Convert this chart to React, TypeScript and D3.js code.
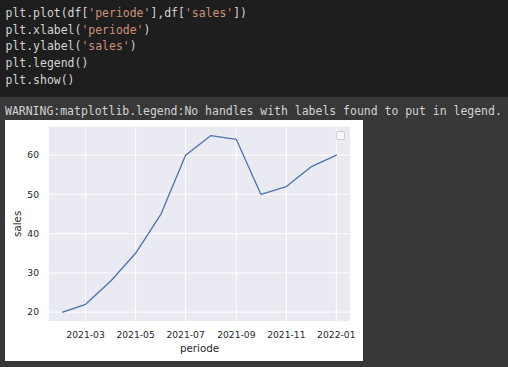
import React from "react";
import * as d3 from "d3";

const months: string[] = [
  "2021-02-01", "2021-03-01", "2021-04-01", "2021-05-01", "2021-06-01", "2021-07-01",
  "2021-08-01", "2021-09-01", "2021-10-01", "2021-11-01", "2021-12-01", "2022-01-01",
];
const sales: number[] = [20, 22, 28, 35, 45, 60, 65, 64, 50, 52, 57, 60];
const xTickLabels: string[] = ["2021-03", "2021-05", "2021-07", "2021-09", "2021-11", "2022-01"];
const yTicks: number[] = [20, 30, 40, 50, 60];

const codeLines: { t: string; s?: boolean }[][] = [
  [{ t: "plt.plot(df[" }, { t: "'periode'", s: true }, { t: "],df[" }, { t: "'sales'", s: true }, { t: "])" }],
  [{ t: "plt.xlabel(" }, { t: "'periode'", s: true }, { t: ")" }],
  [{ t: "plt.ylabel(" }, { t: "'sales'", s: true }, { t: ")" }],
  [{ t: "plt.legend()" }],
  [{ t: "plt.show()" }],
];
const warning = "WARNING:matplotlib.legend:No handles with labels found to put in legend.";

export default function App() {
  const W = 508, H = 367;
  const plot = { left: 49, right: 350, top: 126.7, bottom: 321 };
  const parse = d3.utcParse("%Y-%m-%d");
  const dates = months.map((m) => parse(m) as Date);
  const t0 = +dates[0], t1 = +dates[dates.length - 1];
  const pad = (t1 - t0) * 0.05;
  const x = d3.scaleUtc().domain([new Date(t0 - pad), new Date(t1 + pad)]).range([plot.left, plot.right]);
  const ymin = d3.min(sales)!, ymax = d3.max(sales)!;
  const ypad = (ymax - ymin) * 0.05;
  const y = d3.scaleLinear().domain([ymin - ypad, ymax + ypad]).range([plot.bottom, plot.top]);
  const xTicks = xTickLabels.map((s) => parse(s + "-01") as Date);
  const line = d3.line<number>().x((_, i) => x(dates[i])).y((d) => y(d));
  const fmt = d3.utcFormat("%Y-%m");
  const tickFont = "DejaVu Sans, sans-serif";
  const mono = "DejaVu Sans Mono, monospace";

  return (
    <svg width={W} height={H} style={{ position: "absolute", left: 0, top: 0 }}>
      <rect x={0} y={0} width={W} height={97} fill="#1e1e1e" />
      <rect x={0} y={97} width={W} height={H - 97} fill="#383838" />
      {codeLines.map((ln, i) => {
        const n = ln.reduce((a, p) => a + p.t.length, 0);
        return (
          <text key={i} x={5.5} y={16.7 + i * 16.8} fontFamily={mono} fontSize={11.5} fill="#d4d4d4"
            textLength={n * 6.9} lengthAdjust="spacingAndGlyphs">
            {ln.map((p, j) => (
              <tspan key={j} fill={p.s ? "#ce9178" : "#d4d4d4"}>{p.t}</tspan>
            ))}
          </text>
        );
      })}
      <text x={5} y={115} fontFamily={mono} fontSize={11.5} fill="#d4d4d4"
        textLength={warning.length * 6.9} lengthAdjust="spacingAndGlyphs">{warning}</text>

      <rect x={5} y={120} width={358} height={241} fill="#ffffff" />
      <rect x={plot.left} y={plot.top} width={plot.right - plot.left} height={plot.bottom - plot.top} fill="#eaeaf2" />
      {yTicks.map((v) => (
        <g key={"y" + v}>
          <line x1={plot.left} x2={plot.right} y1={y(v)} y2={y(v)} stroke="#ffffff" strokeWidth={1} />
          <text x={39} y={y(v)} dy="0.35em" textAnchor="end" fontFamily={tickFont} fontSize={9.2} fill="#262626">{v}</text>
        </g>
      ))}
      {xTicks.map((d, i) => (
        <g key={"x" + i}>
          <line x1={x(d)} x2={x(d)} y1={plot.top} y2={plot.bottom} stroke="#ffffff" strokeWidth={1} />
          <text x={x(d)} y={338} textAnchor="middle" fontFamily={tickFont} fontSize={9.2} fill="#262626">{fmt(d)}</text>
        </g>
      ))}
      <path d={line(sales) ?? ""} fill="none" stroke="#4c72b0" strokeWidth={1.3} strokeLinejoin="round" strokeLinecap="square" />
      <rect x={336.5} y={131.5} width={8} height={8} rx={1.5} fill="#f8f8fb" stroke="#cccccc" strokeWidth={1} />
      <text x={(plot.left + plot.right) / 2} y={352} textAnchor="middle" fontFamily={tickFont} fontSize={10.3} fill="#262626">periode</text>
      <text transform={`translate(20.5, ${(plot.top + plot.bottom) / 2}) rotate(-90)`} textAnchor="middle" fontFamily={tickFont} fontSize={10.3} fill="#262626">sales</text>
    </svg>
  );
}
